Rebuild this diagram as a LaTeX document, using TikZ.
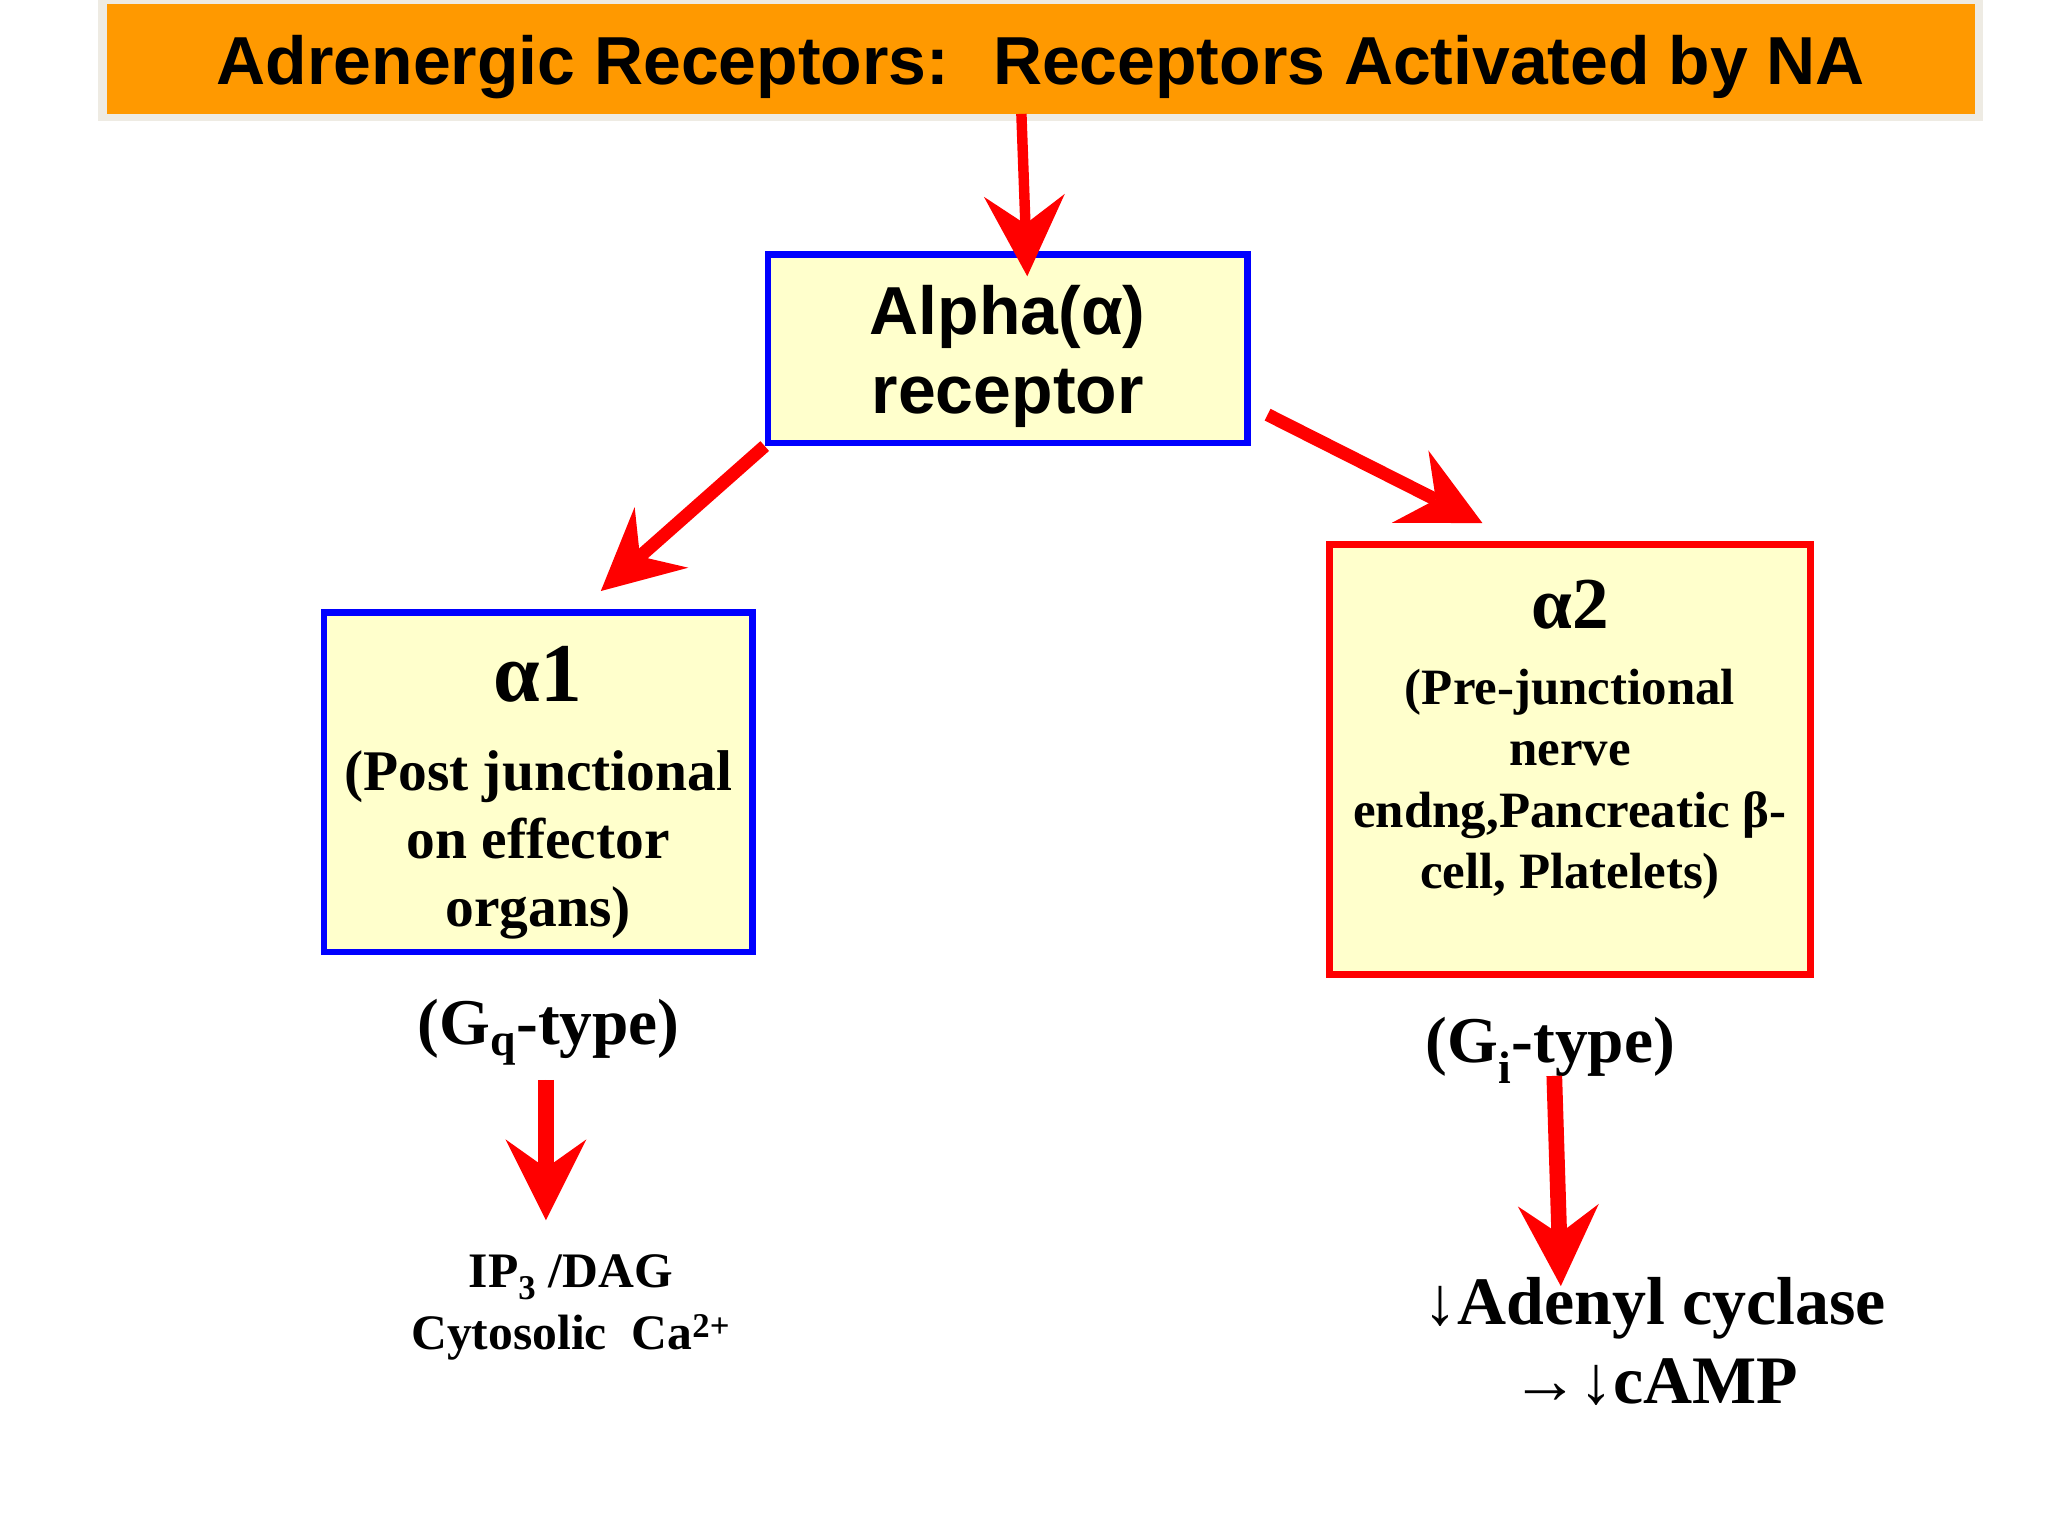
\documentclass[tikz,border=0pt]{standalone}
\usepackage{fontspec}
\setmainfont{Liberation Serif}
\setsansfont{Liberation Sans}
\usetikzlibrary{positioning,arrows.meta}
\definecolor{bannerorange}{HTML}{FF9900}
\definecolor{boxyellow}{HTML}{FFFFCC}
\definecolor{framegrey}{HTML}{EEEBE3}

\begin{document}
\begin{tikzpicture}[x=1pt,y=1pt,>={Stealth[length=62pt,width=62pt,inset=22pt,line width=0pt]},
  arr/.style={->,draw=red,fill=red,line width=10pt},
  rbox/.style={draw,line width=5pt,fill=boxyellow,inner sep=0pt},
  lab/.style={align=center,font=\bfseries\fontsize{50}{60}\selectfont}]
\useasboundingbox (0,0) rectangle (1568,-1176);
\fill[white] (0,0) rectangle (1568,-1176);
% banner
\fill[framegrey] (75,0) rectangle (1518,-93);
\node[fill=bannerorange,minimum width=1430pt,minimum height=84pt,inner sep=0pt,text height=45pt,text depth=6pt,
  font=\sffamily\bfseries\fontsize{52}{60}\selectfont] (NA) at (797,-45) {Adrenergic Receptors:~ Receptors Activated by NA};
% receptor boxes
\node[rbox,draw=blue,minimum width=367pt,minimum height=144pt] (AL) at (771.5,-267) {};
\node[align=center,font=\sffamily\bfseries\fontsize{52}{60}\selectfont] (ALt) at ([yshift=-6pt]AL.center) {Alpha(α)\\receptor};
\node[rbox,draw=blue,minimum width=328pt,minimum height=260pt] (A1) at (412,-599) {};
\node[align=center,font=\bfseries\fontsize{44}{52}\selectfont] (A1t) at ([yshift=-8pt]A1.center)
  {{\fontsize{64}{64}\selectfont α1}\\[16pt](Post junctional\\on effector\\organs)};
\node[rbox,draw=red,minimum width=368pt,minimum height=329pt] (A2) at (1202,-581.5) {};
\node[align=center,font=\bfseries\fontsize{39}{47}\selectfont] (A2t) at ([yshift=15pt]A2.center)
  {{\fontsize{56}{56}\selectfont α2}\\[11pt](Pre-junctional\\nerve\\endng,Pancreatic β-\\cell, Platelets)};
% G-protein types and effects
\node[lab] (GQ) at (420,-790) {(G\textsubscript{q}-type)};
\node[lab] (GI) at (1187,-804) {(G\textsubscript{i}-type)};
\node[align=center,font=\bfseries\fontsize{38}{47}\selectfont] (IP) at (437,-1001) {IP\textsubscript{3} /DAG\\Cytosolic~ Ca\textsuperscript{2+}};
\node[align=center,font=\bfseries\fontsize{52}{60}\selectfont] (AC) at (1267,-1027) {{\mdseries ↓}Adenyl cyclase\\{\mdseries →↓}cAMP};
% arrows
\draw[arr,line width=8pt] ([xshift=-15pt]NA.south) -- ([xshift=15pt,yshift=-19pt]AL.north);
\draw[arr] (AL.south west) -- ([xshift=48pt,yshift=14pt]A1.north);
\draw[arr] ([xshift=13pt,yshift=24pt]AL.south east) -- ([xshift=-67pt,yshift=14pt]A2.north);
\draw[arr,line width=12pt] ([xshift=-2pt,yshift=-8pt]GQ.south) -- ([xshift=-19pt,yshift=23pt]IP.north);
\draw[arr,line width=12pt] ([xshift=3pt,yshift=9pt]GI.south) -- ([xshift=-72pt,yshift=-10pt]AC.north);
\end{tikzpicture}
\end{document}
